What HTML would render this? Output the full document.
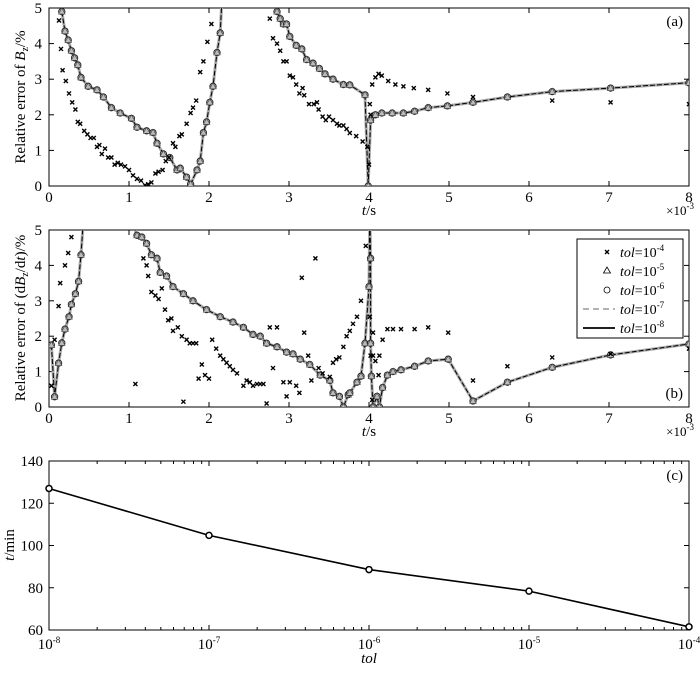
<!DOCTYPE html>
<html><head><meta charset="utf-8"><style>
body{margin:0;background:#fff}
svg, svg text{font-family:"Liberation Serif","Times New Roman",Times,serif}
</style></head><body>
<svg id="c" width="700" height="668" xmlns="http://www.w3.org/2000/svg" font-family="Liberation Serif, Times New Roman, serif">
<defs>
<clipPath id="cpa"><rect x="49" y="8" width="640" height="178"/></clipPath>
<clipPath id="cpb"><rect x="49" y="230" width="640" height="177"/></clipPath>
</defs>
</svg>
<script>
// Panel (a): relative error of Bz — line (tol 1e-5..1e-8)
const aLineX=[0.16,0.2,0.24,0.28,0.32,0.36,0.4,0.49,0.6,0.68,0.78,0.89,1.03,1.1,1.22,1.3,1.35,1.43,1.51,1.6,1.64,1.72,1.77,1.85,1.89,1.93,1.97,2.01,2.05,2.1,2.14,2.17];
const aLineY=[4.9,4.35,4.1,3.8,3.6,3.4,3.05,2.8,2.7,2.5,2.2,2.05,1.9,1.65,1.55,1.5,1.2,0.9,0.8,0.45,0.5,0.25,0.05,0.45,0.7,1.5,1.8,2.35,2.8,3.75,4.3,5.6];
const aLine2X=[2.79,2.85,2.89,2.93,2.97,3.01,3.09,3.16,3.22,3.3,3.38,3.45,3.55,3.68,3.76,3.95,3.99,4.02,4.08,4.16,4.29,4.43,4.57,4.74,4.98,5.3,5.73,6.29,7.02,8.0];
const aLine2Y=[5.6,4.9,4.7,4.55,4.55,4.2,3.95,3.85,3.55,3.45,3.3,3.15,3.0,2.85,2.84,2.56,0.0,1.85,2.0,2.05,2.05,2.05,2.1,2.2,2.25,2.35,2.5,2.65,2.75,2.9];
// Panel (a): tol=1e-4 crosses
const aCrossX=[0.125,0.15,0.17,0.21,0.25,0.29,0.33,0.36,0.39,0.44,0.48,0.52,0.56,0.6,0.63,0.66,0.7,0.74,0.78,0.82,0.86,0.9,0.95,1.0,1.05,1.1,1.15,1.2,1.24,1.28,1.33,1.37,1.42,1.46,1.5,1.55,1.58,1.63,1.66,1.72,1.77,1.8,1.84,1.89,1.93,1.98,2.03,2.76,2.8,2.85,2.89,2.93,2.97,3.01,3.05,3.09,3.13,3.17,3.19,3.25,3.31,3.35,3.37,3.42,3.46,3.5,3.55,3.6,3.63,3.68,3.72,3.76,3.84,3.92,3.98,4.0,4.01,4.02,4.04,4.08,4.12,4.16,4.24,4.33,4.43,4.56,4.74,4.98,5.3,6.29,7.02,8.0];
const aCrossY=[4.65,3.85,3.25,2.95,2.6,2.35,2.15,1.8,1.75,1.55,1.45,1.35,1.35,1.1,1.15,0.9,1.05,0.8,0.8,0.6,0.65,0.6,0.55,0.45,0.3,0.2,0.15,0.02,0.05,0.1,0.35,0.4,0.45,0.7,0.8,1.2,1.1,1.4,1.45,1.75,2.05,2.2,2.4,3.2,3.5,4.05,4.55,4.7,4.15,4.0,3.8,3.5,3.5,3.1,3.05,2.85,2.6,2.75,2.55,2.3,2.3,2.35,2.15,1.95,1.85,1.95,1.85,1.75,1.7,1.7,1.6,1.49,1.4,1.25,1.1,0.6,2.3,2.0,2.85,3.05,3.15,3.1,2.95,2.85,2.8,2.75,2.7,2.6,2.5,2.4,2.35,2.3];
// Panel (b): relative error of dBz/dt — line
const bLineX=[0.03,0.07,0.12,0.16,0.2,0.25,0.28,0.33,0.37,0.4,0.44];
const bLineY=[1.75,0.29,1.24,1.81,2.2,2.55,2.9,3.2,3.55,4.3,5.6];
const bLine2X=[1.03,1.1,1.16,1.22,1.28,1.35,1.39,1.47,1.55,1.68,1.8,1.97,2.14,2.3,2.43,2.55,2.64,2.72,2.85,2.97,3.05,3.14,3.26,3.39,3.51,3.55,3.63,3.68,3.74,3.76,3.85,3.9,3.95,4.0,4.01,4.02,4.02,4.03,4.05,4.1,4.13,4.17,4.23,4.3,4.4,4.57,4.74,4.99,5.3,5.73,6.29,7.02,8.0];
const bLine2Y=[5.3,4.85,4.8,4.62,4.3,4.2,3.8,3.7,3.4,3.2,3.0,2.75,2.55,2.4,2.25,2.05,2.0,1.8,1.7,1.55,1.5,1.35,1.2,0.9,0.75,0.4,0.3,0.0,0.35,0.4,0.7,0.87,1.8,3.4,5.6,4.2,1.8,0.87,0.0,0.3,0.0,0.55,0.9,1.0,1.05,1.15,1.3,1.35,0.17,0.7,1.12,1.47,1.78];
const bCrossX=[0.03,0.07,0.12,0.14,0.2,0.24,0.28,1.08,1.18,1.22,1.24,1.28,1.33,1.37,1.41,1.45,1.49,1.53,1.55,1.61,1.66,1.68,1.72,1.76,1.8,1.84,1.87,1.91,1.95,2.0,2.04,2.09,2.14,2.18,2.22,2.26,2.3,2.35,2.43,2.47,2.51,2.55,2.6,2.64,2.68,2.72,2.76,2.8,2.85,2.93,2.97,3.01,3.09,3.13,3.16,3.19,3.24,3.28,3.33,3.37,3.42,3.51,3.55,3.59,3.63,3.68,3.72,3.76,3.8,3.85,3.9,3.96,4.01,4.02,4.04,4.05,4.05,4.08,4.12,4.13,4.17,4.23,4.3,4.4,4.57,4.74,4.99,5.3,5.73,6.29,7.02,8.0];
const bCrossY=[0.6,1.9,2.85,3.5,4.0,4.35,4.8,0.65,4.2,4.0,3.7,3.25,3.15,3.05,3.35,2.75,2.45,2.5,2.15,2.25,2.0,0.15,1.9,1.8,1.8,1.8,0.8,1.2,0.9,0.8,1.9,1.65,1.45,1.35,1.25,1.15,1.05,0.95,0.6,0.75,0.7,0.6,0.65,0.65,0.65,0.1,2.25,1.1,2.25,0.7,0.3,0.7,0.6,0.4,3.65,2.1,1.45,0.75,4.2,1.1,0.95,0.85,1.25,1.35,1.4,1.7,2.0,2.15,2.35,2.55,3.0,4.55,2.55,1.45,0.2,2.1,1.45,1.3,0.9,1.45,1.9,2.2,2.2,2.2,2.2,2.25,2.1,0.75,1.15,1.4,1.5,1.65];
// Panel (c): computation time vs tol
const cTolExp=[-8,-7,-6,-5,-4];
const cTime=[127,104.8,88.6,78.4,61.5];
const xTicks=[0,1,2,3,4,5,6,7,8];
const yTicksAB=[0,1,2,3,4,5];
const yTicksC=[60,80,100,120,140];

const NS="http://www.w3.org/2000/svg";
const svg=document.getElementById('c');
function el(tag,attrs,parent,text){const e=document.createElementNS(NS,tag);for(const k in attrs)e.setAttribute(k,attrs[k]);if(text!==undefined)e.textContent=text;(parent||svg).appendChild(e);return e;}
const X0=49,X1=689;
const sx=v=>X0+(v/8)*(X1-X0);
const panels=[{top:8,bot:186,clip:'cpa'},{top:230,bot:407,clip:'cpb'}];

function panelAxes(p,name){
  const g=el('g',{},svg);
  
  
  el('rect',{x:X0,y:p.top,width:X1-X0,height:p.bot-p.top,fill:'none',stroke:'#000','stroke-width':1},g);
  const sy=v=>p.bot-(v/5)*(p.bot-p.top);
  xTicks.forEach(t=>{const x=sx(t);
    el('line',{x1:x,x2:x,y1:p.bot,y2:p.bot-5,stroke:'#000'},g);
    el('line',{x1:x,x2:x,y1:p.top,y2:p.top+5,stroke:'#000'},g);
    const tx=el('text',{x:x,y:p.bot+16,'font-size':15,'text-anchor':'middle'},g,String(t));
    });
  yTicksAB.forEach(t=>{const y=sy(t);
    el('line',{x1:X0,x2:X0+5,y1:y,y2:y,stroke:'#000'},g);
    el('line',{x1:X1,x2:X1-5,y1:y,y2:y,stroke:'#000'},g);
    const ty=el('text',{x:X0-7,y:y+5,'font-size':15,'text-anchor':'end'},g,String(t));
    });
  const xl=el('text',{x:369,y:p.bot+29,'font-size':15,'text-anchor':'middle'},g);
  
  el('tspan',{'font-style':'italic'},xl,'t');el('tspan',{},xl,'/s');
  const ex=el('text',{x:694,y:p.bot+29,'font-size':13,'text-anchor':'end'},g);
  
  el('tspan',{},ex,'×10');el('tspan',{'font-size':9,dy:-6},ex,'-3');
  return sy;
}
function drawLine(xs,ys,sy,clip,name){
  const pts=xs.map((v,i)=>sx(v)+','+sy(ys[i])).join(' ');
  const g=el('g',{'clip-path':'url(#'+clip+')'});
  
  el('polyline',{points:pts,fill:'none',stroke:'#aaa','stroke-width':3},g);
  el('polyline',{points:pts,fill:'none',stroke:'#000','stroke-width':1,'stroke-dasharray':'5,2'},g);
  xs.forEach((v,i)=>{const x=sx(v),y=sy(ys[i]);
    const c=el('circle',{cx:x,cy:y,r:3.2,fill:'#aaa',stroke:'#222','stroke-width':0.9},g);
    
    const t=el('polygon',{points:`${x},${y-3.5} ${x-3.3},${y+2.5} ${x+3.3},${y+2.5}`,fill:'#bbb',stroke:'#444','stroke-width':0.6},g);
    });
}
function drawCross(xs,ys,sy,clip,name){
  const g=el('g',{'clip-path':'url(#'+clip+')'});
  
  xs.forEach((v,i)=>{const x=sx(v),y=sy(ys[i]);
    const p=el('path',{d:`M${x-2},${y-2}L${x+2},${y+2}M${x-2},${y+2}L${x+2},${y-2}`,stroke:'#000','stroke-width':1.4},g);
    });
}
const syA=panelAxes(panels[0],'panel-a');
drawLine(aLineX,aLineY,syA,'cpa','series-a-line-1');
drawLine(aLine2X,aLine2Y,syA,'cpa','series-a-line-2');
drawCross(aCrossX,aCrossY,syA,'cpa','series-a-tol-1e-4');
const syB=panelAxes(panels[1],'panel-b');
drawLine(bLineX,bLineY,syB,'cpb','series-b-line-1');
drawLine(bLine2X,bLine2Y,syB,'cpb','series-b-line-2');
drawCross(bCrossX,bCrossY,syB,'cpb','series-b-tol-1e-4');

// y titles
let yt=el('text',{transform:'translate(25,97) rotate(-90)','font-size':15,'text-anchor':'middle'});

el('tspan',{},yt,'Relative error of ');el('tspan',{'font-style':'italic'},yt,'B');el('tspan',{'font-size':10,dy:3},yt,'z');el('tspan',{dy:-3},yt,'/%');
yt=el('text',{transform:'translate(25,318) rotate(-90)','font-size':15,'text-anchor':'middle'});

el('tspan',{},yt,'Relative error of (d');el('tspan',{'font-style':'italic'},yt,'B');el('tspan',{'font-size':10,dy:3},yt,'z');el('tspan',{dy:-3},yt,'/d');el('tspan',{'font-style':'italic'},yt,'t');el('tspan',{},yt,')/%');
let pl=el('text',{x:683,y:26,'font-size':15,'text-anchor':'end'},svg,'(a)');

pl=el('text',{x:683,y:398,'font-size':15,'text-anchor':'end'},svg,'(b)');


// legend
const lg=el('g',{});

el('rect',{x:577,y:239,width:106,height:99,fill:'#fff',stroke:'#000'},lg);
const labels=['-4','-5','-6','-7','-8'];
labels.forEach((e,i)=>{const y=252+i*19;
  const le=el('g',{},lg);
  
  if(i===0)el('path',{d:`M605,${y-2}l4,4m-4,0l4,-4`,stroke:'#000','stroke-width':1.4},le);
  if(i===1)el('polygon',{points:`607,${y-4} 603.5,${y+2} 610.5,${y+2}`,fill:'none',stroke:'#000','stroke-width':0.8},le);
  if(i===2)el('circle',{cx:607,cy:y,r:3,fill:'none',stroke:'#000','stroke-width':0.8},le);
  if(i===3)el('line',{x1:583,x2:615,y1:y,y2:y,stroke:'#999','stroke-width':1.5,'stroke-dasharray':'6,4'},le);
  if(i===4)el('line',{x1:583,x2:615,y1:y,y2:y,stroke:'#000','stroke-width':1.8},le);
  const t=el('text',{x:620,y:y+5,'font-size':14},le);
  el('tspan',{'font-style':'italic'},t,'tol');el('tspan',{},t,'=10');el('tspan',{'font-size':9,dy:-6},t,e);
});

// Panel (c)
const cTop=461,cBot=630;
const cx=e=>X0+(e+8)/4*(X1-X0);
const cy=v=>cBot-(v-60)/80*(cBot-cTop);
const gc=el('g',{});

el('rect',{x:X0,y:cTop,width:X1-X0,height:cBot-cTop,fill:'none',stroke:'#000'},gc);
cTolExp.forEach(e=>{const x=cx(e);
  el('line',{x1:x,x2:x,y1:cBot,y2:cBot-5,stroke:'#000'},gc);
  el('line',{x1:x,x2:x,y1:cTop,y2:cTop+5,stroke:'#000'},gc);
  if(e<-4){for(let m=2;m<=9;m++){const xm=cx(e+Math.log10(m));
    el('line',{x1:xm,x2:xm,y1:cBot,y2:cBot-3,stroke:'#000'},gc);
    el('line',{x1:xm,x2:xm,y1:cTop,y2:cTop+3,stroke:'#000'},gc);}}
  const t=el('text',{x:x,y:cBot+19,'font-size':15,'text-anchor':'middle'},gc);
  
  el('tspan',{},t,'10');el('tspan',{'font-size':9,dy:-6},t,String(e));
});
yTicksC.forEach(v=>{const y=cy(v);
  el('line',{x1:X0,x2:X0+5,y1:y,y2:y,stroke:'#000'},gc);
  el('line',{x1:X1,x2:X1-5,y1:y,y2:y,stroke:'#000'},gc);
  const t=el('text',{x:X0-6,y:y+5,'font-size':15,'text-anchor':'end'},gc,String(v));
  });
const xlc=el('text',{x:369,y:663,'font-size':15,'text-anchor':'middle','font-style':'italic'},svg,'tol');

const ylc=el('text',{transform:'translate(14,545) rotate(-90)','font-size':15,'text-anchor':'middle'});

el('tspan',{'font-style':'italic'},ylc,'t');el('tspan',{},ylc,'/min');
pl=el('text',{x:683,y:480,'font-size':15,'text-anchor':'end'},svg,'(c)');

const line=el('polyline',{points:cTolExp.map((e,i)=>cx(e)+','+cy(cTime[i])).join(' '),fill:'none',stroke:'#000','stroke-width':1.6});

cTolExp.forEach((e,i)=>{const c=el('circle',{cx:cx(e),cy:cy(cTime[i]),r:3,fill:'#fff',stroke:'#000','stroke-width':1.5});
  });
</script>
</body></html>
